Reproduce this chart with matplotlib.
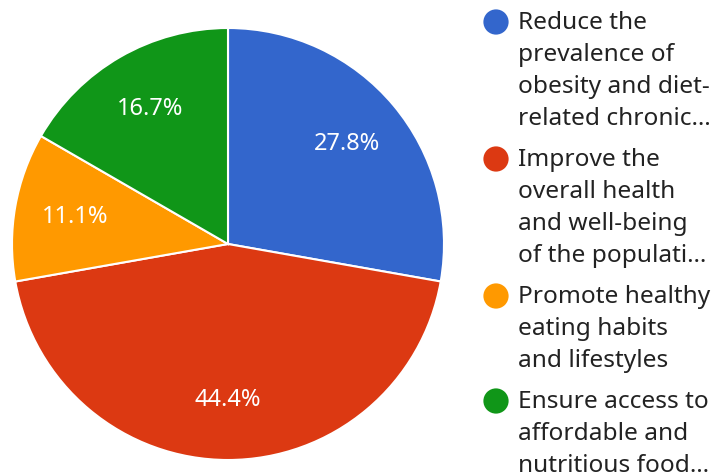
import matplotlib.pyplot as plt

labels = [
    ["Reduce the", "prevalence of", "obesity and diet-", "related chronic…"],
    ["Improve the", "overall health", "and well-being", "of the populati…"],
    ["Promote healthy", "eating habits", "and lifestyles"],
    ["Ensure access to", "affordable and", "nutritious food…"],
]
counts = [5, 8, 2, 3]
colors = ["#3366CC", "#DC3912", "#FF9900", "#109618"]

W, H = 713, 472
fig = plt.figure(figsize=(W / 100, H / 100), dpi=100)
plt.rcParams['font.family'] = ['Noto Sans', 'DejaVu Sans']

# pie area in pixels: x 12..444, y 28..460
ax = fig.add_axes([12 / W, (H - 460) / H, 432 / W, 432 / H])
wedges, texts, autotexts = ax.pie(
    counts, colors=colors, startangle=90, counterclock=False,
    autopct='%1.1f%%', pctdistance=0.72, radius=1,
    wedgeprops=dict(edgecolor='white', linewidth=1.5, clip_on=False),
    textprops=dict(color='white', fontsize=17))
ax.set_xlim(-1, 1)
ax.set_ylim(-1, 1)
ax.set_aspect('equal')
ax.axis('off')

# legend drawn in pixel coordinates
lg = fig.add_axes([0, 0, 1, 1])
lg.set_xlim(0, W)
lg.set_ylim(H, 0)
lg.axis('off')
line_h = 32
y = 22
for lines, c in zip(labels, colors):
    lg.scatter([496], [y], s=330, color=c, edgecolors='none')
    for i, t in enumerate(lines):
        lg.text(518, y + 1 + i * line_h, t, fontsize=17.6, color='#222222',
                va='center', ha='left')
    y += len(lines) * line_h + 9

fig.savefig('out.png', dpi=100)
